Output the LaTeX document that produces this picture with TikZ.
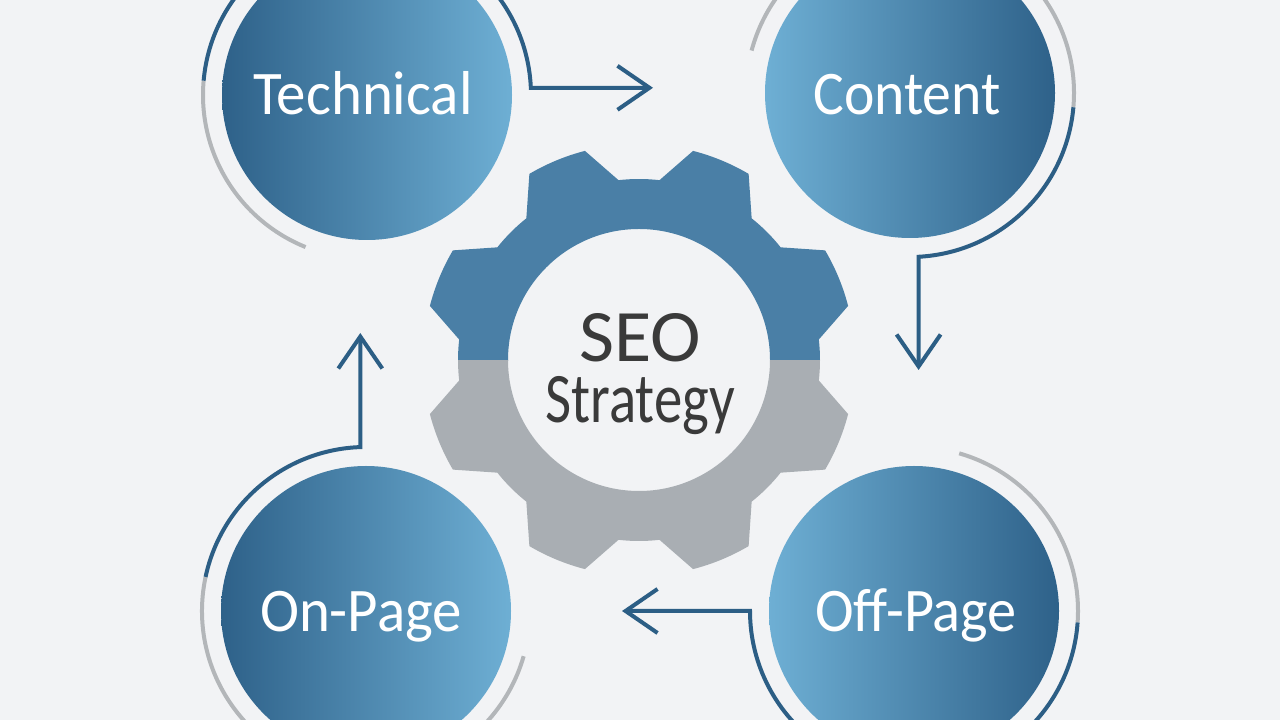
\documentclass[tikz,border=0pt]{standalone}
\usepackage{fontspec}
\usepackage{graphicx}
\setmainfont{Carlito}
\usetikzlibrary{calc,arrows.meta}
\definecolor{bg}{HTML}{F2F3F5}
\definecolor{cdark}{HTML}{2E6189}
\definecolor{clight}{HTML}{6EAFD4}
\definecolor{gearblue}{HTML}{4A7FA6}
\definecolor{geargray}{HTML}{A9AEB3}
\definecolor{ringdark}{HTML}{2C5E85}
\definecolor{ringgray}{HTML}{B3B6B9}
\definecolor{seotext}{HTML}{3A3A3A}
\def\gearoutline{(6.5:181) \foreach \c in {22.5,67.5,...,337.5} { -- ({\c-8}:216) arc[start angle=\c-8, end angle=\c+8, radius=216] -- ({\c+16}:181) arc[start angle=\c+16, end angle=\c+29, radius=181] } -- cycle (0,0) circle[radius=131]}
\begin{document}
\begin{tikzpicture}[x=1pt,y=1pt,
  bubble/.style={circle, minimum size=290pt, inner sep=0pt},
  darktoright/.style={bubble, left color=cdark, right color=clight},
  lighttoright/.style={bubble, left color=clight, right color=cdark},
  ringd/.style={draw=ringdark, line width=4pt},
  ringg/.style={draw=ringgray, line width=4pt},
  flow/.style={ringd, -{Straight Barb[length=32pt,width=44pt]}},
  lbl/.style={text=white, font=\fontsize{62}{62}\selectfont, anchor=base, inner sep=0pt},
  seo/.style={text=seotext, inner sep=0pt, align=center}]
\fill[bg] (0,0) rectangle (1280,720);
\useasboundingbox (0,0) rectangle (1280,720);
\clip (0,0) rectangle (1280,720);
% gear
\coordinate (gear) at (639,360);
\begin{scope}
\clip (0,359) rectangle (1280,720);
\fill[gearblue, even odd rule, shift={(gear)}] \gearoutline;
\end{scope}
\begin{scope}
\clip (0,0) rectangle (1280,359);
\fill[geargray, even odd rule, shift={(gear)}] \gearoutline;
\end{scope}
\node[seo, font=\fontsize{71}{61}\selectfont, anchor=base] (seotxt) at (640,297) {{\fontsize{74}{61}\selectfont\scalebox{1.03}[1]{SEO}}\\\scalebox{0.8}[1]{Strategy}};
% bubbles
\node[darktoright] (tech) at (367,625) {};
\node[lighttoright] (cont) at (910,627) {};
\node[darktoright] (onp) at (366,109) {};
\node[lighttoright] (offp) at (914,109) {};
\node[lbl] (techtxt) at (363,605) {\scalebox{0.95}[1]{Technical}};
\node[lbl] (conttxt) at (907,605) {\scalebox{0.93}[1]{Content}};
\node[lbl] (onptxt) at (361,88) {\scalebox{0.95}[1]{On-Page}};
\node[lbl] (offptxt) at (916,88) {\scalebox{0.94}[1]{Off-Page}};
% rings and flow arrows
\coordinate (tip1) at (653,632.2);
\coordinate (tip2) at (918.6,350);
\coordinate (tip3) at (622,109);
\coordinate (tip4) at (360.3,387);
\draw[ringg] ($(tech)+(175:164)$) arc[start angle=175, end angle=248, radius=164];
\draw[flow] ($(tech)+(175:164)$) arc[start angle=175, end angle=2.5, radius=164] -- (tip1);
\draw[ringg] ($(cont)+(165:164)$) arc[start angle=165, end angle=-5, radius=164];
\draw[flow] ($(cont)+(-5:164)$) arc[start angle=-5, end angle=-87, radius=164] -- (tip2);
\draw[ringg] ($(offp)+(74:164)$) arc[start angle=74, end angle=-4, radius=164];
\draw[ringd] ($(offp)+(-4:164)$) arc[start angle=-4, end angle=-70, radius=164];
\draw[flow] ($(offp)+(235:164)$) arc[start angle=235, end angle=180, radius=164] -- (tip3);
\draw[ringg] ($(onp)+(168:164)$) arc[start angle=168, end angle=250, radius=164];
\draw[ringg] ($(onp)+(-16:164)$) arc[start angle=-16, end angle=-70, radius=164];
\draw[flow] ($(onp)+(168:164)$) arc[start angle=168, end angle=92, radius=164] -- (tip4);
\end{tikzpicture}
\end{document}
